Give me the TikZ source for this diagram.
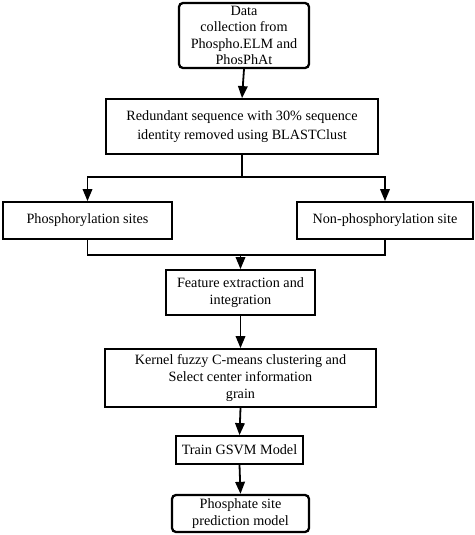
\documentclass[tikz,border=0pt]{standalone}
\usepackage{fontspec}
\setmainfont{Liberation Serif}
\usetikzlibrary{arrows.meta}
\begin{document}
\begin{tikzpicture}[x=1pt,y=-1pt,
  box/.style={draw,line width=1.8pt,inner sep=0pt,align=center,font=\fontsize{14.2}{18.5}\selectfont},
  rbox/.style={box,rounded corners=4pt,line width=2.3pt},
  conn/.style={line width=1.8pt},
  arr/.style={conn,-{Triangle[length=12pt,width=9.5pt]}}]
\useasboundingbox (0,0) rectangle (474,535);
\node[rbox,minimum width=130pt,minimum height=65pt,font=\fontsize{14.2}{16.3}\selectfont] (data) at (244,35.5) {Data\\collection from\\Phospho.ELM and\\PhosPhAt};
\node[box,minimum width=272pt,minimum height=55pt] (red) at (242,126.5) {Redundant sequence with 30\% sequence\\identity removed using BLASTClust};
\node[box,minimum width=169pt,minimum height=37pt] (phos) at (87.5,220.5) {Phosphorylation sites};
\node[box,minimum width=176pt,minimum height=37pt] (non) at (385,220.5) {Non-phosphorylation site};
\node[box,minimum width=149pt,minimum height=45pt,font=\fontsize{14.2}{17}\selectfont] (feat) at (240.5,292.5) {Feature extraction and\\integration};
\node[box,minimum width=271pt,minimum height=58pt,font=\fontsize{14.2}{16.7}\selectfont] (kern) at (240.5,378) {Kernel fuzzy C-means clustering and\\Select center information\\grain};
\node[box,minimum width=127pt,minimum height=28pt] (train) at (239.5,450) {Train GSVM Model};
\node[rbox,minimum width=137pt,minimum height=37pt,font=\fontsize{14.2}{17}\selectfont] (pred) at (240.5,513.5) {Phosphate site\\prediction model};
\coordinate (j1) at (242,177);
\coordinate (j2) at (240.5,255);
\draw[arr] (data.south) -- (red.north);
\draw[conn] (red.south) -- (j1);
\draw[arr] (j1) -| (phos.north);
\draw[arr] (j1) -| (non.north);
\draw[conn] (phos.south) |- (j2);
\draw[conn] (non.south) |- (j2);
\draw[arr] (j2) -- (feat.north);
\draw[arr] (feat.south) -- (kern.north);
\draw[arr] (kern.south) -- (train.north);
\draw[arr] (train.south) -- (pred.north);
\end{tikzpicture}
\end{document}
